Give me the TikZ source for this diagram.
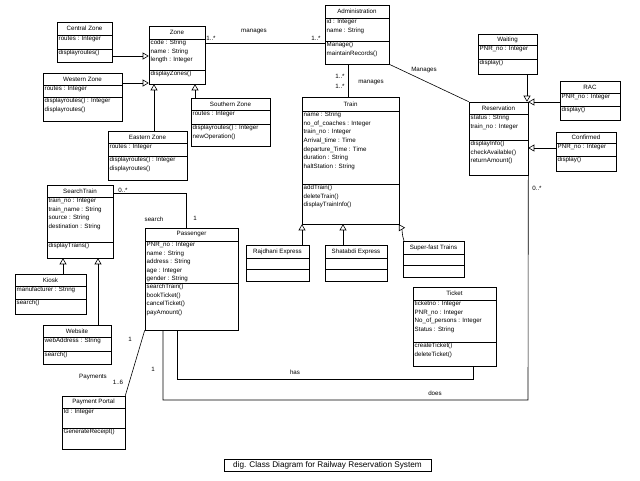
\documentclass[tikz,border=0pt]{standalone}
\usepackage{fontspec}
\setmainfont{Liberation Sans}
\usetikzlibrary{arrows.meta,fit}
\newcommand\umlc[8]{%
 \node[draw,fit={(#2,#3)(#4,#5)},inner sep=0pt,line width=0.6pt] (#1) {};
 \draw[line width=0.6pt] (#2,#6)--(#4,#6);
 \draw[line width=0.6pt] (#2,#7)--(#4,#7);
 \node[txt] at ({(#2+#4)/2},{(#3+#6)/2}) {#8};}
\newcommand\attr[3]{\node[txt,anchor=north west,align=left] at (#1+0.5,#2) {#3};}
\begin{document}
\begin{tikzpicture}[x=1pt,y=-1pt,
 txt/.style={font=\fontsize{6.2}{8.6}\selectfont,inner sep=1pt},
 gen/.style={-{Triangle[open,length=6pt,width=7pt]},line width=0.6pt},
 asc/.style={line width=0.6pt}]
\useasboundingbox (0,0) rectangle (640,480);
% Zones
\umlc{cz}{57}{22}{112}{62}{35}{49}{Central Zone}
\attr{57}{35}{routes : Integer}\attr{57}{49}{displayroutes()}
\umlc{zone}{149}{26}{205}{84}{39}{70}{Zone}
\attr{149}{39}{code : String\\name : String\\length : Integer}\attr{149}{70}{displayZones()}
\umlc{wz}{43}{73}{122}{121}{85}{97}{Western Zone}
\attr{43}{85}{routes : Integer}\attr{43}{97}{displayroutes() : Integer\\displayroutes()}
\umlc{sz}{191}{98}{270}{146}{110}{124}{Southern Zone}
\attr{191}{110}{routes : Integer}\attr{191}{124}{displayroutes() : Integer\\newOperation()}
\umlc{ez}{108}{131}{187}{180}{143}{156}{Eastern Zone}
\attr{108}{143}{routes : Integer}\attr{108}{156}{displayroutes() : Integer\\displayroutes()}
% Admin, Train
\umlc{adm}{325}{5}{389}{64}{18}{41}{Administration}
\attr{325}{18}{id : Integer\\name : String}\attr{325}{41}{Manage()\\maintainRecords()}
\umlc{train}{302}{97}{399}{224}{111}{184}{Train}
\attr{302}{111}{name : String\\no\_of\_coaches : Integer\\train\_no : Integer\\Arrival\_time : Time\\departure\_Time : Time\\duration : String\\haltStation : String}
\attr{302}{184}{addTrain()\\deleteTrain()\\displayTrainInfo()}
% Reservation group
\umlc{wait}{478}{34}{537}{74}{45}{59}{Waiting}
\attr{478}{45}{PNR\_no : Integer}\attr{478}{59}{display()}
\umlc{rac}{560}{81}{620}{120}{93}{106}{RAC}
\attr{560}{93}{PNR\_no : Integer}\attr{560}{106}{display()}
\umlc{res}{469}{102}{528}{175}{114}{140}{Reservation}
\attr{469}{114}{status : String\\train\_no : Integer}\attr{469}{140}{displayInfo()\\checkAvailable()\\returnAmount()}
\umlc{conf}{556}{132}{616}{171}{143}{156}{Confirmed}
\attr{556}{143}{PNR\_no : Integer}\attr{556}{156}{display()}
% Search
\umlc{st}{47}{185}{113}{258}{197}{242}{SearchTrain}
\attr{47}{197}{train\_no : Integer\\train\_name : String\\source : String\\destination : String}\attr{47}{242}{displayTrains()}
\umlc{kiosk}{15}{274}{86}{314}{286}{299}{Kiosk}
\attr{15}{286}{manufacturer : String}\attr{15}{299}{search()}
\umlc{web}{43}{325}{111}{364}{337}{351}{Website}
\attr{43}{337}{webAddress : String}\attr{43}{351}{search()}
\umlc{pas}{145}{228}{238}{330}{241}{283}{Passenger}
\attr{145}{241}{PNR\_no : Integer\\name : String\\address : String\\age : Integer\\gender : String}
\attr{145}{283}{searchTrain()\\bookTicket()\\cancelTicket()\\payAmount()}
\umlc{raj}{246}{245}{309}{281}{258}{269}{Rajdhani Express}
\umlc{sha}{325}{245}{387}{281}{258}{269}{Shatabdi Express}
\umlc{sup}{403}{241}{464}{277}{254}{265}{Super-fast Trains}
\umlc{tick}{413}{287}{496}{366}{300}{342}{Ticket}
\attr{413}{300}{ticketno : Integer\\PNR\_no : Integer\\No\_of\_persons : Integer\\Status : String}
\attr{413}{342}{createTicket()\\deleteTicket()}
\umlc{pay}{62}{396}{125}{449}{408}{428}{Payment Portal}
\attr{62}{408}{Id : Integer}\attr{62}{428}{GenerateReceipt()}
% generalizations
\draw[gen] (cz.east|-0,56) -- (zone.west|-0,56);
\draw[gen] (wz.east|-0,83) -- (zone.west|-0,83);
\draw[gen] (ez.north-|154,0) -- (zone.south-|154,0);
\draw[gen] (sz.north-|195,0) -- (zone.south-|195,0);
\draw[gen] (wait.south-|527,0) -- (res.north-|527,0);
\draw[gen] (rac.west|-0,102) -- (res.east|-0,102);
\draw[gen] (conf.west|-0,148) -- (res.east|-0,148);
\draw[gen] (kiosk.north-|63,0) -- (st.south-|63,0);
\draw[gen] (web.north-|98,0) -- (st.south-|98,0);
\draw[gen] (raj.north-|302,0) -- (train.south-|302,0);
\draw[gen] (sha.north-|343,0) -- (train.south-|343,0);
\draw[gen] (sup.north-|404,0) to[out=110,in=-60] (train.south-|399,0);
% associations
\draw[asc] (zone.east|-0,43) -- (adm.west|-0,43);
\draw[asc] (adm.south-|348,0) -- (train.north-|348,0);
\draw[asc] (adm.south east) -- (res.north west);
\draw[asc] (st.east|-0,193) -| (pas.north-|186,0);
\draw[asc] (pas.south west) -- (pay.north east);
\coordinate (h1) at (177,379); \coordinate (h2) at (473,379);
\draw[asc] (pas.south-|177,0) -- (h1) -- (h2) -- (tick.south-|473,0);
\coordinate (d1) at (163,400); \coordinate (d2) at (528,400);
\draw[asc] (pas.south-|163,0) -- (d1) -- (d2) -- (res.south east);
% labels
\node[txt] (l1) at (211,38) {1..*};
\node[txt] (l2) at (316,38) {1..*};
\node[txt] (l3) at (254,31) {manages};
\node[txt] (l4) at (340,76) {1..*};
\node[txt] (l5) at (340,86) {1..*};
\node[txt] (l6) at (371,82) {manages};
\node[txt] (l7) at (424,70) {Manages};
\node[txt] (l8) at (537,188) {0..*};
\node[txt] (l9) at (123,190) {0..*};
\node[txt] (l10) at (195,218) {1};
\node[txt] (l11) at (154,219) {search};
\node[txt] (l12) at (130,339) {1};
\node[txt] (l13) at (93,377) {Payments};
\node[txt] (l14) at (118,382) {1..6};
\node[txt] (l15) at (153,369) {1};
\node[txt] (l16) at (295,372) {has};
\node[txt] (l17) at (435,393) {does};
\node[draw,line width=0.5pt,inner sep=1pt,font=\fontsize{8.2}{9}\selectfont,minimum width=207pt,minimum height=12pt] (cap) at (327.5,465) {dig. Class Diagram for Railway Reservation System};
\end{tikzpicture}
\end{document}
